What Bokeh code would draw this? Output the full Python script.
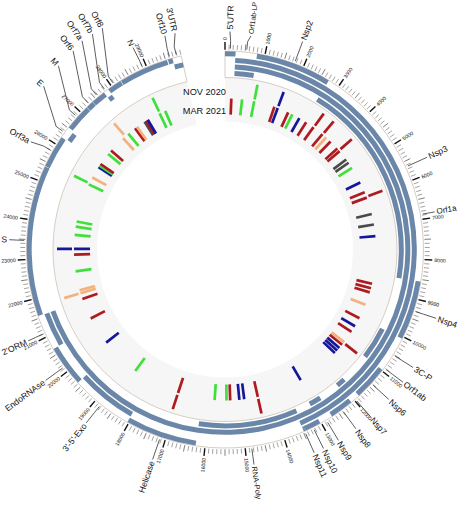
import math
from bokeh.plotting import figure
from bokeh.models import Range1d, ColumnDataSource
from bokeh.embed import file_html
from bokeh.resources import INLINE
from bokeh.core.properties import value

# ---------------- data ----------------
GENOME_LEN = 29903

gene_names = ["5'UTR", "Orf1ab-LP", "Orf1a", "Orf1ab", "Nsp2", "Nsp3", "Nsp4", "3C-P",
              "Nsp6", "Nsp7", "Nsp8", "Nsp9", "Nsp10", "Nsp11", "RNA-Poly", "Helicase",
              "3'-5'-Exo", "EndoRNAse", "2'ORM", "S", "Orf3a", "E", "M", "Orf6", "Orf7a",
              "Orf7b", "Orf8", "N", "Orf10", "3'UTR"]
gene_start = [1, 266, 266, 266, 806, 2720, 8555, 10055, 10973, 11843, 12092, 12686, 13025,
              13442, 13442, 16237, 18040, 19621, 20659, 21563, 25393, 26245, 26523, 27202,
              27394, 27756, 27894, 28274, 29558, 29675]
gene_end = [265, 805, 13483, 21555, 2719, 8554, 10054, 10972, 11842, 12091, 12685, 13024,
            13441, 13480, 16236, 18039, 19620, 20658, 21552, 25384, 26220, 26472, 27191,
            27387, 27759, 27887, 28259, 29533, 29674, 29903]
gene_row = [1, 4, 2, 3, 1, 4, 1, 4, 1, 4, 1, 4, 1, 1, 4, 1, 2, 1, 2, 1, 1, 2, 1, 1, 1, 2, 1,
            1, 1, 2]

tick_values = list(range(0, 30000, 100))
tick_label_values = list(range(0, 30000, 1000))

nov_pos = [960, 1760, 3100, 3470, 4220, 5990, 11040, 14420, 17060, 21800, 23270, 25490,
           27440, 28800]
nov_kind = ["green", "blue", "red", "red", "red", "red", "red", "red", "red", "orange",
            "blue", "green", "orange", "green"]

mar_pos = [207, 560, 960, 1645, 1760, 2130, 2280, 2540, 2800, 3090, 3460, 3620, 3820, 4140,
           4250, 4600, 4730, 4930, 5480, 5830, 6020, 6580, 6930, 7310, 8880, 9030, 9170,
           9600, 10080, 10380, 10600, 11010, 11120, 11260, 11370, 11480, 12910, 14420, 14870,
           15030, 15330, 15450, 15840, 17060, 18640, 19970, 20910, 21600, 21800, 21900,
           22530, 23080, 23270, 23730, 24000, 24170, 25450, 25700, 26100, 26160, 26220,
           26630, 26780, 27340, 27570, 27850, 27930, 28230, 28290, 28350, 28790, 28990]
mar_kind = ["red", "green", "green", "red", "blue", "red", "green", "blue", "red", "red",
            "red", "orange", "red", "red", "red", "gray", "gray", "green", "blue", "red",
            "red", "gray", "gray", "blue", "red", "red", "red", "orange", "red", "blue", "red",
            "orange", "red", "blue", "blue", "blue", "blue", "red", "blue", "blue", "red",
            "green", "green", "red", "green", "blue", "red", "red", "orange", "orange",
            "green", "red", "blue", "green", "green", "green", "green", "orange", "blue",
            "green", "red", "green", "red", "orange", "green", "red", "orange", "gray", "red",
            "blue", "green", "green"]

row_titles = ["NOV 2020", "MAR 2021"]

# ---------------- layout / style ----------------
kind_color = {"red": "#ad1a1f", "green": "#3fe03c", "blue": "#16169a",
              "orange": "#f2b27f", "gray": "#4a4a4a"}
BAND_COLOR = "#6a87a9"
TURN_BP = 31000.0
CX, CY = 232.5, -257.0

# label placement tweaks (degrees clockwise from top, radius px, font size)
label_theta = {"5'UTR": 1.3, "Orf1ab-LP": 6.9, "Orf3a": 299.0, "E": 312.0, "M": 317.8,
               "Orf6": 322.6, "Orf7a": 325.6, "Orf7b": 328.4, "Orf8": 331.0, "N": 335.5,
               "Orf10": 344.3, "3'UTR": 347.0}
label_radius = {"E": 246, "M": 250, "Orf6": 252, "Orf7a": 255, "Orf7b": 255, "Orf8": 255,
                "Orf1ab-LP": 217, "Orf1a": 215, "RNA-Poly": 219, "S": 218, "2'ORM": 219,
                "5'UTR": 220}
label_size = {"Orf1ab-LP": "7px", "Orf1a": "8px", "RNA-Poly": "7.5px"}
DEFAULT_R = 224.0
DEFAULT_SIZE = "8.6px"


def ang(bp):
    return math.pi / 2 - bp / TURN_BP * 2 * math.pi


def pt(r, a):
    return CX + r * math.cos(a), CY + r * math.sin(a)


W, H = 458, 503
p = figure(width=W, height=H, x_range=Range1d(8, 8 + W), y_range=Range1d(-8 - H, -8),
           output_backend="svg", toolbar_location=None, min_border=0,
           x_axis_location=None, y_axis_location=None)
p.grid.visible = False
p.outline_line_color = None
p.background_fill_color = "white"
p.border_fill_color = "white"

# background regions
p.annular_wedge(x=CX, y=CY, inner_radius=128, outer_radius=172, start_angle=ang(0),
                end_angle=ang(GENOME_LEN), direction="clock", fill_color="#f6f6f6",
                line_color=None)
p.annular_wedge(x=CX, y=CY, inner_radius=172, outer_radius=198.5, start_angle=ang(0),
                end_angle=ang(GENOME_LEN), direction="clock", fill_color="white",
                line_color="#d3c7bb", line_width=0.9)

# gene bands
ro = [198.3 - (k - 1) * 6.5 for k in gene_row]
ri = [r - 5.0 for r in ro]
band_src = ColumnDataSource(dict(
    x=[CX] * len(gene_names), y=[CY] * len(gene_names), ri=ri, ro=ro,
    sa=[ang(s - 1) for s in gene_start], ea=[ang(e) for e in gene_end]))
p.annular_wedge(x="x", y="y", inner_radius="ri", outer_radius="ro", start_angle="sa",
                end_angle="ea", direction="clock", source=band_src, fill_color=BAND_COLOR,
                line_color=None)


def tick_segs(vals, r0, r1):
    xs0, ys0, xs1, ys1 = [], [], [], []
    for v in vals:
        a = ang(v)
        x0, y0 = pt(r0, a)
        x1, y1 = pt(r1, a)
        xs0.append(x0); ys0.append(y0); xs1.append(x1); ys1.append(y1)
    return xs0, ys0, xs1, ys1


# ticks
minor = [v for v in tick_values if v % 500 != 0]
mid = [v for v in tick_values if v % 500 == 0 and v % 1000 != 0]
major = [v for v in tick_values if v % 1000 == 0]
for vals, r1, col, lw in [(minor, 204.8, "#8c8c8c", 0.8), (mid, 206.3, "#707070", 0.9),
                          (major, 207.5, "#111111", 1.4)]:
    x0, y0, x1, y1 = tick_segs(vals, 199.8, r1)
    p.segment(x0=x0, y0=y0, x1=x1, y1=y1, line_color=col, line_width=lw)


def radial_text(vals, texts, radii, sizes, color):
    xs, ys, angs, aligns = [], [], [], []
    for v, r in zip(vals, radii):
        a = ang(v)
        x, y = pt(r, a)
        th = v / TURN_BP * 360.0
        if th < 180:
            angs.append(a); aligns.append("left")
        else:
            angs.append(a + math.pi); aligns.append("right")
        xs.append(x); ys.append(y)
    src = ColumnDataSource(dict(x=xs, y=ys, t=texts, a=angs, al=aligns, fs=sizes))
    p.text(x="x", y="y", text="t", angle="a", text_align="al", source=src,
           text_baseline="middle", text_font=value("Liberation Sans"),
           text_font_size="fs", text_color=color)


radial_text(tick_label_values, [str(v) for v in tick_label_values],
            [209.5] * len(tick_label_values), ["5.2px"] * len(tick_label_values), "#111111")

# gene labels with leader lines
lab_bp, lab_r, lab_fs, lead_x, lead_y = [], [], [], [], []
for name, s, e in zip(gene_names, gene_start, gene_end):
    mid_bp = (s + e) / 2.0
    lbp = label_theta.get(name, mid_bp * 360.0 / TURN_BP) * TURN_BP / 360.0
    r = label_radius.get(name, DEFAULT_R)
    lab_bp.append(lbp); lab_r.append(r); lab_fs.append(label_size.get(name, DEFAULT_SIZE))
    pa = pt(201.0, ang(mid_bp))
    pb = pt(209.0, ang(mid_bp))
    pc = pt(r - 2.0, ang(lbp))
    lead_x.append([pa[0], pb[0], pc[0]])
    lead_y.append([pa[1], pb[1], pc[1]])
p.multi_line(xs=lead_x, ys=lead_y, line_color="#333333", line_width=0.8)
radial_text(lab_bp, gene_names, lab_r, lab_fs, "#111111")


# variant bars
def bars(pos, kinds, r0, r1):
    x0, y0, x1, y1 = tick_segs(pos, r0, r1)
    p.segment(x0=x0, y0=y0, x1=x1, y1=y1, line_color=[kind_color[k] for k in kinds],
              line_width=2.7, line_cap="butt")


bars(nov_pos, nov_kind, 153.0, 168.0)
bars(mar_pos, mar_kind, 135.0, 151.0)

p.text(x=[212, 212], y=[-99, -118], text=row_titles, text_align="center",
       text_baseline="middle", text_font=value("Liberation Sans"), text_font_size="9.2px",
       text_color="#111111")

open("out.html", "w").write(file_html(p, INLINE))
